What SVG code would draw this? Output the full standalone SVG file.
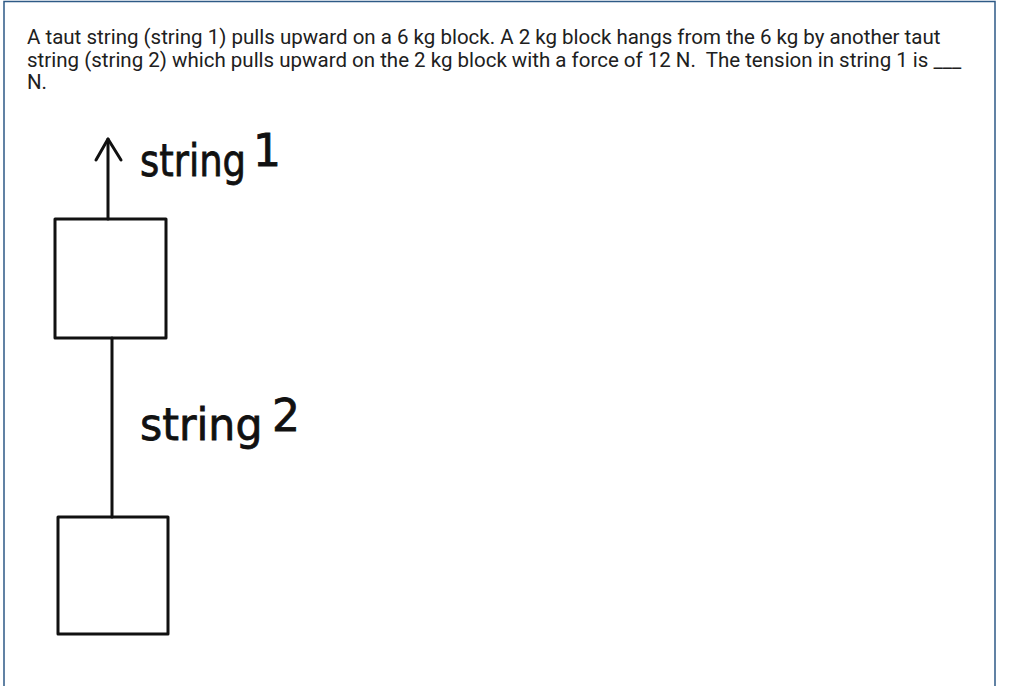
<svg xmlns="http://www.w3.org/2000/svg" width="1024" height="686" viewBox="0 0 1024 686">
<style>
.q{font-family:Roboto,"Liberation Sans",sans-serif;font-size:20.5px;fill:#202020;white-space:pre}
.hw{font-family:"DejaVu Sans",sans-serif;font-size:44px;fill:#111;stroke:#111;stroke-width:0.8}
.ln{fill:none;stroke:#111;stroke-width:3;stroke-linecap:round;stroke-linejoin:round}
</style>
<rect x="0" y="0" width="1024" height="686" fill="#fff"/>
<path d="M4,690 V1.5 H995 V690" fill="none" stroke="#2e5a86" stroke-width="1.5"/>
<g id="question">
<text class="q" x="27" y="44">A taut string (string 1) pulls upward on a 6 kg block. A 2 kg block hangs from the 6 kg by another taut</text>
<text class="q" x="27" y="67" xml:space="preserve">string (string 2) which pulls upward on the 2 kg block with a force of 12 N.  The tension in string 1 is ___</text>
<text class="q" x="27" y="89">N.</text>
</g>
<g id="block6">
<rect class="ln" x="55" y="219" width="111" height="119"/>
</g>
<g id="block2">
<rect class="ln" x="58" y="517" width="110" height="117"/>
</g>
<g id="connectors">
<path class="ln" d="M108,219 V139"/>
<path class="ln" d="M96,160 L108,139 L121,160"/>
<path class="ln" d="M112,338 V517"/>
</g>
<g id="label1">
<text class="hw" transform="translate(140,176) scale(0.84,1)">string</text>
<text class="hw" x="253" y="166" font-size="40">1</text>
</g>
<g id="label2">
<text class="hw" transform="translate(140,440) scale(0.97,1)">string</text>
<text class="hw" x="272" y="431" font-size="40">2</text>
</g>
</svg>
